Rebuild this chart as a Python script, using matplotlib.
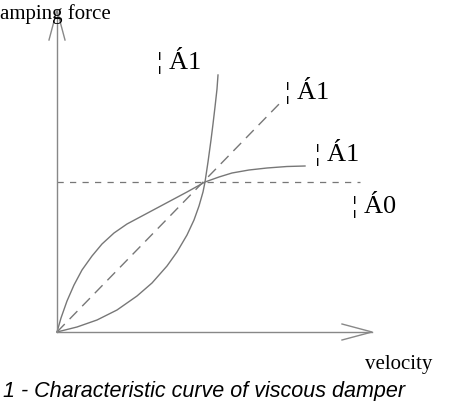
import matplotlib
matplotlib.use("Agg")
import matplotlib.pyplot as plt

# data in chart units (origin at axes corner)
v_lin = [0, 226]; f_lin = [0, 232]
v_steep = [0, 20, 40, 60, 80, 95, 110, 120, 130, 137, 142, 146, 148, 151, 154, 156, 158, 160, 161]
f_steep = [0, 5, 12, 22, 36, 49, 66, 80, 97, 112, 126, 140, 150, 170, 192, 208, 225, 243, 257]
v_soft = [0, 4, 10, 17, 25, 35, 45, 57, 70, 85, 100, 115, 130, 148, 162, 175, 192, 210, 230, 248]
f_soft = [0, 14, 31, 47, 62, 76, 88, 99, 108, 116, 124, 132, 140, 150, 155, 159, 162, 164, 165.5, 166]
f_zero = 150
labels = ["¦ Á1", "¦ Á1", "¦ Á1", "¦ Á0"]

W, H = 474, 401
fig = plt.figure(figsize=(W/100, H/100), dpi=100)
ax = fig.add_axes([0, 0, 1, 1])
ax.set_xlim(-57, W-57); ax.set_ylim(-(H-332), 332)
ax.axis('off')
g = '#777777'
ax.plot(v_steep, f_steep, color=g, lw=1)
ax.plot(v_soft, f_soft, color=g, lw=1)
ax.plot(v_lin, f_lin, color=g, lw=1, ls=(0, (8, 5)))
ax.plot([0, 303], [f_zero, f_zero], color=g, lw=0.9, ls=(0, (5, 5)))
k = '#888888'
ax.plot([0, 0], [0, 322], color=k, lw=1)
ax.plot([-8, 0, 8], [292, 322, 292], color=k, lw=1)
ax.plot([0, 315], [0, 0], color=k, lw=1)
ax.plot([285, 315, 285], [8, 0, -8], color=k, lw=1)
fs = dict(family='Liberation Serif', fontsize=19, color='black', va='center')
for (x, y), t in zip([(100, 272), (228, 242), (258, 180), (295, 128)], labels):
    ax.text(x, y, t, **fs)
ax.text(-57, 318, "amping force", family='Liberation Serif', fontsize=15, va='center')
ax.text(308, -32, "velocity", family='Liberation Serif', fontsize=15, va='center')
ax.text(-54, -60, "1 - Characteristic curve of viscous damper", family='Liberation Sans',
        fontsize=15.5, style='italic', va='center')
fig.savefig("out.png", dpi=100)
